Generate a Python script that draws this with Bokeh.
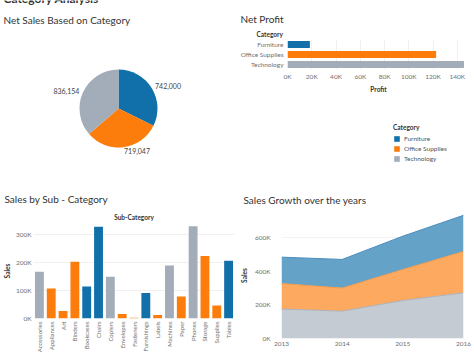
import math
from bokeh.plotting import figure
from bokeh.models import (Range1d, FactorRange, FixedTicker, CustomJSTickFormatter,
                          Label, ColumnDataSource, Title, Legend, LegendItem)
from bokeh.layouts import column, row
from bokeh.embed import file_html
from bokeh.resources import INLINE

# ---------------- data ----------------
categories = ["Furniture", "Office Supplies", "Technology"]
cat_colors = ["#1170aa", "#fc7d0b", "#a3acb9"]
area_colors = ["#64a2c8", "#fdaa60", "#c5cbd3"]
net_sales = [742000, 719047, 836154]
net_profit = [18451, 122491, 145455]

sub_categories = ["Accessories", "Appliances", "Art", "Binders", "Bookcases", "Chairs",
                  "Copiers", "Envelopes", "Fasteners", "Furnishings", "Labels", "Machines",
                  "Paper", "Phones", "Storage", "Supplies", "Tables"]
sub_parent = ["Technology", "Office Supplies", "Office Supplies", "Office Supplies", "Furniture",
              "Furniture", "Technology", "Office Supplies", "Office Supplies", "Furniture",
              "Office Supplies", "Technology", "Office Supplies", "Technology",
              "Office Supplies", "Office Supplies", "Furniture"]
sub_sales = [167380, 107532, 27119, 203413, 114880, 328449, 149528, 16476, 3024, 91705,
             12486, 189239, 78479, 330007, 223844, 46674, 206966]

years = [2013, 2014, 2015, 2016]
sales_technology = [175278, 162781, 226364, 271731]
sales_office = [151776, 137233, 183940, 246097]
sales_furniture = [157193, 170518, 198901, 215387]

profit_ticks = [0, 20000, 40000, 60000, 80000, 100000, 120000, 140000]
sub_ticks = [0, 100000, 200000, 300000]
growth_ticks = [0, 200000, 400000, 600000]

FONT = "Lato"
TITLE_C = "#333333"
TICK_C = "#707070"
color_of = dict(zip(categories, cat_colors))
kfmt = "return (tick/1000).toFixed(0) + 'K';"


def style_axes(p):
    for ax in p.axis:
        ax.axis_line_color = None
        ax.major_tick_line_color = None
        ax.minor_tick_line_color = None
        ax.major_tick_out = 0
        ax.major_tick_in = 0
        ax.minor_tick_out = 0
        ax.minor_tick_in = 0
        ax.major_label_text_font = FONT
        ax.major_label_text_font_size = "6.5px"
        ax.major_label_text_color = TICK_C
        ax.axis_label_text_font = FONT
        ax.axis_label_text_font_size = "6.5px"
        ax.axis_label_text_font_style = "bold"
        ax.axis_label_text_color = TITLE_C


def big_title(text, offset, standoff):
    return Title(text=text, align="left", offset=offset, standoff=standoff,
                 text_font=FONT, text_font_size="10px", text_font_style="normal",
                 text_color=TITLE_C)


def small_header(text, align, offset, standoff):
    return Title(text=text, align=align, offset=offset, standoff=standoff,
                 text_font=FONT, text_font_size="6.5px", text_font_style="bold",
                 text_color=TITLE_C)


# ---------------- pie ----------------
W1, H1 = 237, 183
p1 = figure(width=W1, height=H1, x_range=Range1d(0, W1), y_range=Range1d(0, H1),
            x_axis_type=None, y_axis_type=None, toolbar_location=None,
            output_backend="svg", min_border=0)
p1.outline_line_color = None
p1.grid.visible = False

total = sum(net_sales)
starts, ends, lx, ly, la, ltxt = [], [], [], [], [], []
acc = 0
cx, cy, r = 118, H1 - 108, 39
for v in net_sales:
    a0 = acc / total
    acc += v
    a1 = acc / total
    starts.append(math.pi / 2 - 2 * math.pi * a0)
    ends.append(math.pi / 2 - 2 * math.pi * a1)
    mid = 2 * math.pi * (a0 + a1) / 2
    lx.append(cx + (r + 4) * math.sin(mid))
    ly.append(cy + (r + 4) * math.cos(mid))
    la.append("left" if math.sin(mid) > 0.05 else ("right" if math.sin(mid) < -0.05 else "center"))
    ltxt.append(f"{v:,}")

pie_src = ColumnDataSource(dict(cat=categories, start=starts, end=ends, color=cat_colors))
p1.wedge(x=cx, y=cy, radius=r, radius_units="screen", start_angle="start", end_angle="end",
         direction="clock", fill_color="color", line_color=None, source=pie_src)
lab_src = ColumnDataSource(dict(x=lx, y=ly, text=ltxt, align=la))
p1.text(x="x", y="y", text="text", text_align="align", text_baseline="middle",
        text_font={"value": FONT}, text_font_size="7px", text_color="#444444", source=lab_src)

p1.add_layout(Label(x=3, y=H1 - 5, text="Category Analysis", text_font=FONT,
                    text_font_size="12px", text_font_style="bold", text_color=TITLE_C,
                    text_baseline="bottom"))
p1.add_layout(Label(x=3, y=H1 - 19, text="Net Sales Based on Category", text_font=FONT,
                    text_font_size="10px", text_color=TITLE_C, text_baseline="middle"))

# ---------------- net profit ----------------
p2 = figure(width=237, height=100, y_range=FactorRange(factors=categories[::-1]),
            x_range=Range1d(0, 150000), toolbar_location=None, output_backend="svg",
            min_border_left=50, min_border_right=5, min_border_top=39, min_border_bottom=31,
            title=None)
p2.outline_line_color = None
prof_src = ColumnDataSource(dict(cat=categories, profit=net_profit, color=cat_colors))
p2.hbar(y="cat", right="profit", height=0.7, fill_color="color", line_color=None,
        source=prof_src)
p2.xaxis.ticker = FixedTicker(ticks=profit_ticks)
p2.xaxis.formatter = CustomJSTickFormatter(code=kfmt)
p2.xaxis.axis_label = "Profit"
p2.xaxis.major_label_standoff = 3
p2.xaxis.axis_label_standoff = 3
p2.yaxis.major_label_standoff = 4
style_axes(p2)
p2.ygrid.visible = False
p2.xgrid.grid_line_color = "#f0f0f0"
p2.add_layout(small_header("Category", "left", -31, 3), "above")
p2.add_layout(big_title("Net Profit", -47, 6), "above")

# legend panel under the profit chart
pl = figure(width=237, height=83, x_range=Range1d(0, 1), y_range=FactorRange(factors=categories),
            x_axis_type=None, y_axis_type=None, toolbar_location=None,
            output_backend="svg", min_border=0, title=None)
pl.outline_line_color = None
pl.grid.visible = False
leg_r = pl.hbar(y="cat", right="profit", height=0.7, fill_color="color", line_color=None,
                source=prof_src)
leg_r.visible = False
lg = Legend(items=[LegendItem(label={"field": "cat"}, renderers=[leg_r])],
            location=(106, 20))
lg.title = "Category"
lg.title_text_font = FONT
lg.title_text_font_size = "6.5px"
lg.title_text_font_style = "bold"
lg.title_text_color = TITLE_C
lg.title_standoff = 2
lg.label_text_font = FONT
lg.label_text_font_size = "6.5px"
lg.label_text_color = "#555555"
lg.label_height = 10
lg.glyph_height = 7
lg.glyph_width = 7
lg.label_standoff = 4
lg.spacing = 0
lg.padding = 0
lg.margin = 0
lg.border_line_color = None
lg.background_fill_alpha = 0
lg.inactive_fill_alpha = 0
pl.add_layout(lg)

# ---------------- sales by sub-category ----------------
p3 = figure(width=237, height=172, x_range=FactorRange(factors=sub_categories),
            y_range=Range1d(0, 340000), toolbar_location=None, title=None,
            output_backend="svg", min_border_left=32, min_border_right=3,
            min_border_top=40, min_border_bottom=30)
p3.outline_line_color = None
sub_src = ColumnDataSource(dict(sub=sub_categories, sales=sub_sales,
                                color=[color_of[c] for c in sub_parent]))
p3.vbar(x="sub", top="sales", width=0.75, fill_color="color", line_color=None, source=sub_src)
p3.yaxis.ticker = FixedTicker(ticks=sub_ticks)
p3.yaxis.formatter = CustomJSTickFormatter(code=kfmt)
p3.yaxis.axis_label = "Sales"
p3.yaxis.major_label_standoff = 2
p3.yaxis.axis_label_standoff = 2
style_axes(p3)
p3.xaxis.major_label_orientation = math.pi / 2
p3.xaxis.major_label_standoff = 3
p3.xaxis.major_label_text_font_size = "6px"
p3.xgrid.visible = False
p3.ygrid.grid_line_color = "#f0f0f0"
p3.add_layout(small_header("Sub-Category", "center", 0, 6), "above")
p3.add_layout(big_title("Sales by Sub - Category", -29, 7), "above")

# ---------------- sales growth ----------------
p4 = figure(width=237, height=172, x_range=Range1d(2013, 2016), y_range=Range1d(0, 750000),
            toolbar_location=None, output_backend="svg", min_border_left=41, title=None,
            min_border_right=11, min_border_top=29, min_border_bottom=17)
p4.outline_line_color = None
gr_src = ColumnDataSource(dict(year=years, tech=sales_technology, office=sales_office,
                               furn=sales_furniture))
stack = ["tech", "office", "furn"]
p4.varea_stack(stackers=stack, x="year", fill_color=area_colors[::-1], source=gr_src)
p4.vline_stack(stackers=stack, x="year", line_color=["#aab2bd", "#f59a4a", "#4a8cbc"],
               line_width=1, source=gr_src)
p4.xaxis.ticker = FixedTicker(ticks=years)
p4.xaxis.major_label_standoff = 3
p4.yaxis.ticker = FixedTicker(ticks=growth_ticks)
p4.yaxis.formatter = CustomJSTickFormatter(code=kfmt)
p4.yaxis.axis_label = "Sales"
p4.yaxis.major_label_standoff = 11
p4.yaxis.axis_label_standoff = 4
style_axes(p4)
p4.xgrid.visible = False
p4.ygrid.grid_line_color = "#f3f3f3"
p4.add_layout(big_title("Sales Growth over the years", -38, 13), "above")

page = column(row(column(p1), column(p2, pl)), row(column(p3), column(p4)))
open("out.html", "w").write(file_html(page, INLINE))
